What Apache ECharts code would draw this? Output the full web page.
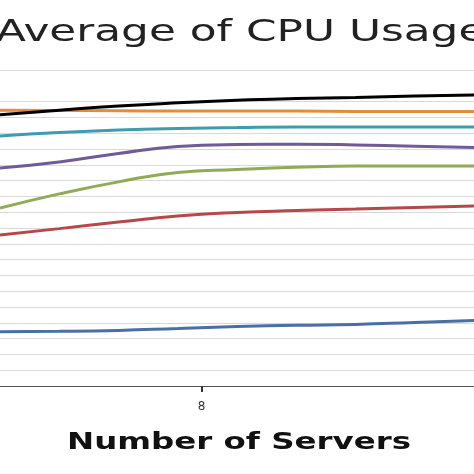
<!DOCTYPE html>
<html>
<head>
<meta charset="utf-8">
<script src="https://cdn.jsdelivr.net/npm/echarts@6/dist/echarts.min.js"></script>
<style>
  html, body { margin: 0; padding: 0; background: #fff; }
  #chart { width: 474px; height: 474px; }
</style>
</head>
<body>
<div id="chart"></div>
<script>
const servers = [6.3, 6.8, 7.3, 7.8, 8.3, 8.8, 9.3, 9.8, 10.3];
const tickValues = [8];

const blueSeries = [17.2, 17.3, 17.6, 18.2, 18.8, 19.2, 19.5, 20.1, 20.7];
const redSeries = [47.8, 49.8, 51.9, 53.8, 54.9, 55.5, 56.0, 56.5, 57.0];
const greenSeries = [56.3, 60.8, 64.6, 67.6, 68.5, 69.2, 69.6, 69.6, 69.6];
const purpleSeries = [69.0, 70.9, 73.6, 75.8, 76.4, 76.5, 76.3, 75.9, 75.5];
const tealSeries = [79.1, 80.2, 81.0, 81.5, 81.8, 82.0, 82.0, 82.0, 82.0];
const orangeSeries = [87.3, 87.2, 87.1, 87.0, 87.0, 87.0, 86.9, 86.9, 86.9];
const blackSeries = [85.8, 87.3, 88.6, 89.6, 90.4, 91.0, 91.3, 91.8, 92.1];

const lineDefs = [
  { name: "Blue", data: blueSeries, color: "#4a6fa5" },
  { name: "Red", data: redSeries, color: "#b5494a" },
  { name: "Green", data: greenSeries, color: "#8fab56" },
  { name: "Purple", data: purpleSeries, color: "#6e5b97" },
  { name: "Teal", data: tealSeries, color: "#3f9bb0" },
  { name: "Orange", data: orangeSeries, color: "#e08e3c" },
  { name: "Black", data: blackSeries, color: "#000000" },
];

// gridline at 95 is not drawn in the source picture
const gridColors = Array.from({ length: 21 }, (_, i) => (i === 19 ? "transparent" : "#d9d9d9"));

const chart = echarts.init(document.getElementById("chart"));

chart.setOption({
  backgroundColor: "#ffffff",
  animation: false,
  grid: { left: 0, right: 0, top: 70, bottom: 88 },
  xAxis: {
    type: "value",
    min: 6.3,
    max: 10.3,
    axisLine: { lineStyle: { color: "#555555", width: 1 } },
    axisTick: { customValues: tickValues, length: 6, lineStyle: { color: "#333333", width: 2 } },
    axisLabel: { customValues: tickValues, margin: 15, fontSize: 12, color: "#333333", fontFamily: "DejaVu Sans" },
    splitLine: { show: false },
  },
  yAxis: {
    type: "value",
    min: 0,
    max: 100,
    interval: 5,
    axisLine: { show: false },
    axisTick: { show: false },
    axisLabel: { show: false },
    splitLine: { lineStyle: { color: gridColors, width: 1 } },
  },
  graphic: [
    {
      type: "text",
      x: -4,
      y: 33,
      scaleX: 1.46,
      style: {
        text: "Average of CPU Usage",
        fontSize: 30,
        fontFamily: "DejaVu Sans",
        fill: "#222222",
        textVerticalAlign: "middle",
      },
    },
    {
      type: "text",
      x: 239,
      y: 443,
      scaleX: 1.41,
      style: {
        text: "Number of Servers",
        fontSize: 23,
        fontWeight: "bold",
        fontFamily: "DejaVu Sans",
        fill: "#111111",
        textAlign: "center",
        textVerticalAlign: "middle",
      },
    },
  ],
  series: lineDefs.map((def) => ({
    name: def.name,
    type: "line",
    smooth: true,
    symbol: "none",
    lineStyle: { width: 3, color: def.color },
    data: servers.map((x, i) => [x, def.data[i]]),
  })),
});
</script>
</body>
</html>
